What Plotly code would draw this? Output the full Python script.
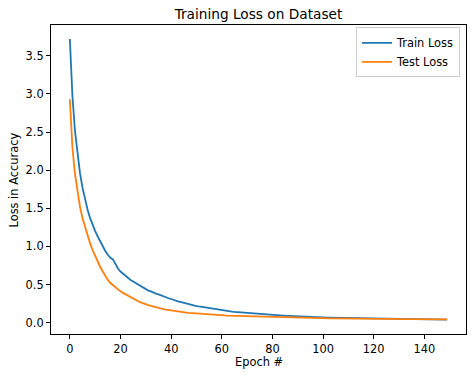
import plotly.graph_objects as go

epochs = list(range(150))

train_loss = [
    3.72, 2.98, 2.52, 2.20, 1.96, 1.77, 1.61, 1.48, 1.37, 1.28,
    1.20, 1.13, 1.06, 1.00, 0.94, 0.89, 0.85, 0.83, 0.76, 0.71,
    0.67, 0.64, 0.62, 0.59, 0.56, 0.54, 0.52, 0.50, 0.47, 0.46,
    0.44, 0.42, 0.41, 0.39, 0.38, 0.37, 0.355, 0.34, 0.33, 0.32,
    0.31, 0.295, 0.285, 0.275, 0.27, 0.26, 0.25, 0.24, 0.232, 0.225,
    0.218, 0.212, 0.206, 0.200, 0.195, 0.190, 0.183, 0.178, 0.172, 0.166,
    0.160, 0.157, 0.152, 0.149, 0.145, 0.141, 0.138, 0.135, 0.131, 0.128,
    0.125, 0.122, 0.120, 0.117, 0.114, 0.112, 0.109, 0.107, 0.105, 0.103,
    0.100, 0.098, 0.097, 0.095, 0.093, 0.091, 0.089, 0.088, 0.086, 0.085,
    0.083, 0.082, 0.080, 0.079, 0.077, 0.076, 0.075, 0.073, 0.072, 0.071,
    0.069, 0.068, 0.067, 0.066, 0.065, 0.064, 0.063, 0.062, 0.062, 0.061,
    0.060, 0.059, 0.058, 0.058, 0.057, 0.056, 0.056, 0.055, 0.054, 0.054,
    0.053, 0.052, 0.052, 0.051, 0.051, 0.050, 0.050, 0.049, 0.049, 0.048,
    0.048, 0.047, 0.047, 0.046, 0.046, 0.045, 0.045, 0.045, 0.044, 0.044,
    0.043, 0.043, 0.043, 0.042, 0.042, 0.042, 0.041, 0.041, 0.040, 0.040,
]

test_loss = [
    2.93, 2.30, 1.95, 1.70, 1.52, 1.37, 1.25, 1.14, 1.04, 0.95,
    0.87, 0.80, 0.73, 0.67, 0.61, 0.56, 0.52, 0.49, 0.46, 0.43,
    0.41, 0.39, 0.37, 0.35, 0.33, 0.31, 0.295, 0.28, 0.265, 0.25,
    0.24, 0.23, 0.22, 0.21, 0.20, 0.192, 0.185, 0.178, 0.171, 0.165,
    0.160, 0.155, 0.150, 0.145, 0.140, 0.136, 0.132, 0.128, 0.125, 0.122,
    0.119, 0.116, 0.113, 0.111, 0.109, 0.107, 0.105, 0.103, 0.101, 0.099,
    0.097, 0.095, 0.093, 0.092, 0.090, 0.088, 0.087, 0.085, 0.084, 0.083,
    0.081, 0.080, 0.079, 0.078, 0.077, 0.076, 0.075, 0.074, 0.073, 0.072,
    0.071, 0.070, 0.069, 0.068, 0.068, 0.067, 0.066, 0.065, 0.065, 0.064,
    0.063, 0.063, 0.062, 0.061, 0.061, 0.060, 0.060, 0.059, 0.059, 0.058,
    0.058, 0.057, 0.057, 0.056, 0.056, 0.056, 0.055, 0.055, 0.054, 0.054,
    0.054, 0.053, 0.053, 0.053, 0.052, 0.052, 0.052, 0.051, 0.051, 0.051,
    0.050, 0.050, 0.050, 0.049, 0.049, 0.049, 0.049, 0.048, 0.048, 0.048,
    0.047, 0.047, 0.047, 0.047, 0.046, 0.046, 0.046, 0.046, 0.045, 0.045,
    0.045, 0.045, 0.044, 0.044, 0.044, 0.044, 0.043, 0.043, 0.043, 0.043,
]

x_ticks = [0, 20, 40, 60, 80, 100, 120, 140]
y_ticks = [0.0, 0.5, 1.0, 1.5, 2.0, 2.5, 3.0, 3.5]
y_tick_text = ["0.0", "0.5", "1.0", "1.5", "2.0", "2.5", "3.0", "3.5"]

FONT = "DejaVu Sans"
TICK_SIZE = 11.4
TITLE_SIZE = 13.7

fig = go.Figure()
fig.add_trace(go.Scatter(x=epochs, y=train_loss, mode="lines", name="Train Loss",
                         line=dict(color="#1f77b4", width=1.8)))
fig.add_trace(go.Scatter(x=epochs, y=test_loss, mode="lines", name="Test Loss",
                         line=dict(color="#ff7f0e", width=1.8)))

axis_common = dict(showgrid=False, zeroline=False, showline=True, mirror=True,
                   linecolor="black", linewidth=1, ticks="outside", ticklen=4,
                   tickwidth=1, tickcolor="black", automargin=False,
                   tickfont=dict(family=FONT, size=TICK_SIZE, color="black"))

fig.update_layout(
    width=474, height=378,
    margin=dict(l=51, r=8, t=25, b=44, autoexpand=False),
    paper_bgcolor="white", plot_bgcolor="white",
    font=dict(family=FONT, color="black"),
    title=dict(text="Training Loss on Dataset", x=0.5, xref="paper", xanchor="center",
               y=1 - 14 / 378, yref="container", yanchor="middle",
               font=dict(family=FONT, size=TITLE_SIZE, color="black")),
    xaxis=dict(range=[-7.45, 156.45], tickvals=x_ticks, **axis_common),
    yaxis=dict(range=[-0.149, 3.904], tickvals=y_ticks, ticktext=y_tick_text, **axis_common),
    showlegend=True,
    legend=dict(x=0.9855, xanchor="right", y=0.992, yanchor="top",
                bgcolor="rgba(255,255,255,0.8)", bordercolor="#cccccc", borderwidth=1,
                font=dict(family=FONT, size=TICK_SIZE, color="black"), itemwidth=30,
                tracegroupgap=0),
    annotations=[
        dict(text="Epoch #", x=0.5, xref="paper", y=-0.0916, yref="paper",
             xanchor="center", yanchor="middle", showarrow=False,
             font=dict(family=FONT, size=TICK_SIZE, color="black")),
        dict(text="Loss in Accuracy", x=-0.0892, xref="paper", y=0.5, yref="paper",
             xanchor="center", yanchor="middle", showarrow=False, textangle=-90,
             font=dict(family=FONT, size=TICK_SIZE, color="black")),
    ],
)

fig.write_html("out.html", config={"displayModeBar": False},
               post_script="document.body.style.margin='0';document.body.style.padding='0';")
